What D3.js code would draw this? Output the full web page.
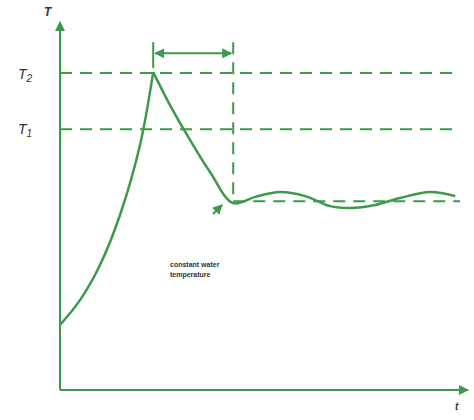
<!DOCTYPE html><html><head><script src="https://cdn.jsdelivr.net/npm/d3@7"></script>
<style>body{margin:0;background:#fff}</style></head><body><svg id="c" width="474" height="420"></svg>
<script>
const riseT=[0,0.5,1,1.5,2,2.33];
const riseV=[1.76,2.43,3.38,4.73,6.62,8.59];
const fallT=[2.33,2.75,3.25,3.75,4.33,4.88,5.5,6.13,6.75,7.25,7.88,8.5,9.25,9.88];
const fallV=[8.59,7.70,6.76,5.89,5.05,5.22,5.35,5.24,4.97,4.92,5.0,5.19,5.35,5.24];
const levels=[{name:"T2",v:8.57},{name:"T1",v:7.05}];
const settleT=4.33, settleV=5.1;
const G="#3d9a4c";
const svg=d3.select("#c");
const x=d3.scaleLinear().domain([0,10]).range([60,460]);
const y=d3.scaleLinear().domain([0,10]).range([390,20]);
svg.append("defs").append("marker").attr("id","ah").attr("viewBox","0 0 10 10").attr("refX",9).attr("refY",5)
 .attr("markerWidth",5).attr("markerHeight",5).attr("orient","auto-start-reverse")
 .append("path").attr("d","M0,0L10,5L0,10z").attr("fill",G);
const ln=(x1,y1,x2,y2,dash,w)=>svg.append("line").attr("x1",x1).attr("y1",y1).attr("x2",x2).attr("y2",y2).attr("stroke",G).attr("stroke-width",w||2).attr("stroke-dasharray",dash||null);
ln(x(0),y(0),x(0),y(10)+2).attr("marker-end","url(#ah)");
ln(x(0),y(0),x(10.2),y(0)).attr("marker-end","url(#ah)");
levels.forEach(l=>ln(x(0),y(l.v),x(10),y(l.v),"12,8"));
ln(x(settleT),y(settleV),x(10),y(settleV),"12,8");
ln(x(settleT),y(9.4),x(settleT),y(settleV),"12,8");
ln(x(2.33),y(9.4),x(2.33),y(8.7));
ln(x(2.33)+2,y(9.1),x(settleT)-2,y(9.1)).attr("marker-start","url(#ah)").attr("marker-end","url(#ah)");
ln(213,214,222,205,null,2).attr("marker-end","url(#ah)");
const line=d3.line().x(d=>x(d[0])).y(d=>y(d[1])).curve(d3.curveCatmullRom);
svg.append("path").attr("d",line(d3.zip(riseT,riseV))).attr("fill","none").attr("stroke",G).attr("stroke-width",2.5);
svg.append("path").attr("d",line(d3.zip(fallT,fallV))).attr("fill","none").attr("stroke",G).attr("stroke-width",2.5);
const tx=(s,X,Y,sz,it)=>svg.append("text").attr("x",X).attr("y",Y).text(s).attr("fill","#333").attr("font-family","Liberation Sans").attr("font-size",sz).attr("font-style",it?"italic":null).attr("font-weight","bold");
tx("T",44,16,12,1);
svg.append("text").attr("x",18).attr("y",79).attr("fill","#333").attr("font-family","Liberation Sans").attr("font-size",14).attr("font-style","italic").html("T<tspan font-size='10' dy='3'>2</tspan>");
svg.append("text").attr("x",18).attr("y",134).attr("fill","#333").attr("font-family","Liberation Sans").attr("font-size",14).attr("font-style","italic").html("T<tspan font-size='10' dy='3'>1</tspan>");
tx("t",455,410,10,1);
tx("constant water",170,267,7);
tx("temperature",170,277,7);
</script></body></html>
